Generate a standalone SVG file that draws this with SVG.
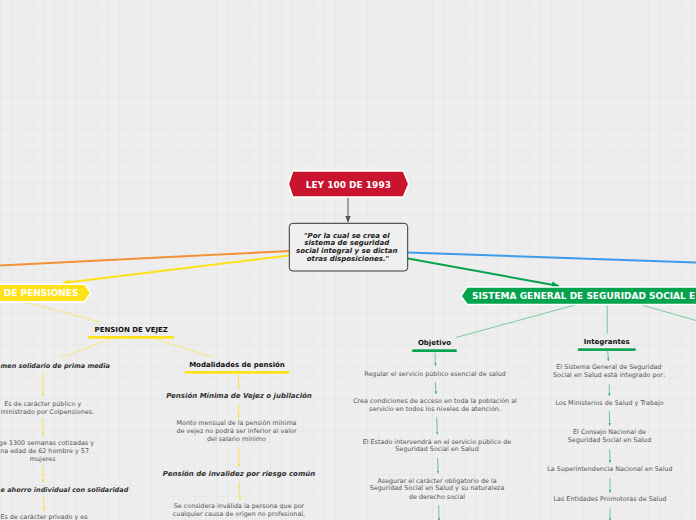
<svg xmlns="http://www.w3.org/2000/svg" width="696" height="520" viewBox="0 0 696 520">
<defs>
<pattern id="grid" width="10.8" height="10.8" patternUnits="userSpaceOnUse" x="1" y="0">
<rect width="10.8" height="10.8" fill="#eeeeee"/>
<path d="M10.8 0V10.8M0 10.8H10.8" stroke="#e3e3e3" stroke-width="1" fill="none"/>
</pattern>
<marker id="aDark" viewBox="0 0 10 10" refX="9" refY="5" markerWidth="7" markerHeight="7" markerUnits="userSpaceOnUse" orient="auto"><path d="M0 1L10 5L0 9z" fill="#555"/></marker>
<marker id="aYel" viewBox="0 0 10 10" refX="9" refY="5" markerWidth="8" markerHeight="8" markerUnits="userSpaceOnUse" orient="auto"><path d="M0 1L10 5L0 9z" fill="#ffe11a"/></marker>
<marker id="aGrn" viewBox="0 0 10 10" refX="9" refY="5" markerWidth="8" markerHeight="8" markerUnits="userSpaceOnUse" orient="auto"><path d="M0 1L10 5L0 9z" fill="#05a34e"/></marker>
<marker id="aYl" viewBox="0 0 10 10" refX="9" refY="5" markerWidth="3" markerHeight="3" markerUnits="userSpaceOnUse" orient="auto"><path d="M0 1L10 5L0 9z" fill="#f7df3a"/></marker>
<marker id="aGl" viewBox="0 0 10 10" refX="9" refY="5" markerWidth="3" markerHeight="3" markerUnits="userSpaceOnUse" orient="auto"><path d="M0 1L10 5L0 9z" fill="#3fb673"/></marker>
</defs>
<style>
text{font-family:"DejaVu Sans","Verdana",sans-serif}
.hdr{font-size:9px;font-weight:bold;fill:#fff}
.lbl{font-size:7px;font-weight:bold;fill:#111;text-anchor:middle}
.bi{font-size:7px;font-weight:bold;font-style:italic;fill:#333;text-anchor:middle}
.bis{font-size:6.5px;font-weight:bold;font-style:italic;fill:#333}
.tx{font-size:6.4px;fill:#555;text-anchor:middle}
.thinY{stroke:#f7e67e;stroke-width:1;fill:none}
.thinG{stroke:#7ccb9c;stroke-width:1;fill:none}
.vY{stroke:#fbe35a;stroke-width:1;fill:none;marker-end:url(#aYl)}
.vG{stroke:#6cc493;stroke-width:1;fill:none;marker-end:url(#aGl)}
</style>
<rect width="696" height="520" fill="url(#grid)"/>

<g id="connectors">
<line x1="348" y1="197" x2="348" y2="222" stroke="#555" stroke-width="1" marker-end="url(#aDark)"/>
<line x1="289" y1="251" x2="0" y2="265.5" stroke="#f39234" stroke-width="2"/>
<line x1="289" y1="255.5" x2="63" y2="283" stroke="#ffe11a" stroke-width="2" marker-end="url(#aYel)"/>
<line x1="408" y1="252.5" x2="696" y2="262.5" stroke="#3d9be9" stroke-width="2"/>
<line x1="408" y1="258.5" x2="559" y2="286" stroke="#05a34e" stroke-width="2" marker-end="url(#aGrn)"/>
<line class="thinY" x1="25" y1="302" x2="100" y2="322"/>
<line class="thinY" x1="110" y1="339" x2="61" y2="358"/>
<line class="thinY" x1="155" y1="339" x2="212" y2="357"/>
<line class="vY" x1="43" y1="373" x2="43" y2="396"/>
<line class="vY" x1="43" y1="418" x2="43" y2="435"/>
<line class="vY" x1="43" y1="466" x2="43" y2="482"/>
<line class="vY" x1="43.5" y1="497" x2="44" y2="511"/>
<line class="vY" x1="238.3" y1="373.5" x2="238.7" y2="388.5"/>
<line class="vY" x1="238.7" y1="403.5" x2="238.7" y2="417.5"/>
<line class="vY" x1="238.7" y1="447.5" x2="239" y2="466.5"/>
<line class="vY" x1="239.3" y1="482" x2="240" y2="499.5"/>
<line class="thinG" x1="575" y1="305" x2="456" y2="337.5"/>
<line class="thinG" x1="607.3" y1="305.5" x2="607.3" y2="333.5"/>
<line class="thinG" x1="641.7" y1="305" x2="696" y2="320.5"/>
<line class="vG" x1="435" y1="352.5" x2="435.5" y2="366"/>
<line class="vG" x1="435.3" y1="382" x2="436" y2="394"/>
<line class="vG" x1="436.7" y1="417" x2="437.3" y2="434.3"/>
<line class="vG" x1="437.7" y1="458" x2="438" y2="473.3"/>
<line class="vG" x1="438.7" y1="505" x2="439" y2="521"/>
<line class="vG" x1="607.7" y1="351" x2="608.5" y2="361"/>
<line class="vG" x1="609.3" y1="384.3" x2="609.3" y2="396"/>
<line class="vG" x1="609.3" y1="411" x2="609.7" y2="425.7"/>
<line class="vG" x1="609.7" y1="449.3" x2="610" y2="462.7"/>
<line class="vG" x1="610" y1="478" x2="610" y2="492.7"/>
<line class="vG" x1="610" y1="508.3" x2="610" y2="521"/>
</g>

<g id="ley">
<polygon points="288.3,184 292.7,171 403.3,171 408.7,184 403.3,197 292.7,197" fill="#c8142f" stroke="#fff" stroke-width="1.5"/>
<text class="hdr" x="348.3" y="187.5" text-anchor="middle">LEY 100 DE 1993</text>
</g>

<g id="central">
<rect x="289.3" y="223.3" width="118.4" height="47.7" rx="3.5" fill="#efefef" stroke="#333" stroke-width="1"/>
<text class="bi" style="fill:#222">
<tspan x="348" y="237.5">"Por la cual se crea el</tspan>
<tspan x="348" y="245.3">sistema de seguridad</tspan>
<tspan x="348" y="253.3">social integral y se dictan</tspan>
<tspan x="348" y="261.3">otras disposiciones."</tspan>
</text>
</g>

<g id="pensiones">
<polygon points="-10,284.3 85,284.3 90.5,293 85,301.7 -10,301.7" fill="#ffe11a" stroke="#fff" stroke-width="1.5"/>
<text class="hdr" x="78.5" y="296.3" text-anchor="end">DE PENSIONES</text>
</g>

<g id="vejez">
<text class="lbl" x="131.2" y="332">PENSION DE VEJEZ</text>
<rect x="88" y="336" width="86" height="2.7" fill="#ffe11a"/>
</g>

<g id="regimen-solidario">
<text class="bis" x="0.5" y="368">men solidario de prima media</text>
</g>
<g id="publico">
<text class="tx" x="42.7" y="405.5">Es de carácter público y</text>
<text class="tx" x="94" y="413.5" style="text-anchor:end">ministrado por Colpensiones.</text>
</g>
<g id="semanas">
<text class="tx" x="94" y="444.5" style="text-anchor:end">ge 1300 semanas cotizadas y</text>
<text class="tx" x="89" y="452.5" style="text-anchor:end">na edad de 62 hombre y 57</text>
<text class="tx" x="42.7" y="460.5">mujeres</text>
</g>
<g id="ahorro">
<text class="bis" x="0.5" y="491.5">e ahorro individual con solidaridad</text>
</g>
<g id="privado">
<text class="tx" x="44" y="518.5">Es de carácter privado y es</text>
</g>

<g id="modalidades">
<text class="lbl" x="237" y="367">Modalidades de pensión</text>
<rect x="184.7" y="371" width="104.6" height="2.7" fill="#ffe11a"/>
</g>
<g id="minima">
<text class="bi" x="239" y="397.5">Pensión Mínima de Vejez o jubilación</text>
</g>
<g id="monto">
<text class="tx"><tspan x="236.5" y="425">Monto mensual de la pensión mínima</tspan><tspan x="236.5" y="433">de vejez no podrá ser inferior al valor</tspan><tspan x="236.5" y="441">del salario mínimo</tspan></text>
</g>
<g id="invalidez">
<text class="bi" x="239" y="476">Pensión de invalidez por riesgo común</text>
</g>
<g id="invalida">
<text class="tx"><tspan x="239" y="508">Se considera inválida la persona que por</tspan><tspan x="239" y="516">cualquier causa de origen no profesional,</tspan></text>
</g>

<g id="salud">
<polygon points="461,296 467,287 710,287 710,304.5 467,304.5" fill="#05a34e" stroke="#fff" stroke-width="1.5"/>
<text class="hdr" x="472" y="299">SISTEMA GENERAL DE SEGURIDAD SOCIAL E</text>
</g>

<g id="objetivo">
<text class="lbl" x="434.5" y="345">Objetivo</text>
<rect x="412.3" y="349.3" width="44.4" height="2.7" fill="#05a34e"/>
</g>
<g id="regular"><text class="tx" x="435" y="375.5">Regular el servicio público esencial de salud</text></g>
<g id="condiciones"><text class="tx"><tspan x="435" y="403">Crea condiciones de acceso en toda la población al</tspan><tspan x="435" y="411">servicio en todos los niveles de atención.</tspan></text></g>
<g id="estado"><text class="tx"><tspan x="437" y="443.5">El Estado intervendrá en el servicio público de</tspan><tspan x="437" y="451.3">Seguridad Social en Salud</tspan></text></g>
<g id="asegurar"><text class="tx"><tspan x="437" y="482.5">Asegurar el carácter obligatorio de la</tspan><tspan x="437" y="490.3">Seguridad Social en Salud y su naturaleza</tspan><tspan x="437" y="498.5">de derecho social</tspan></text></g>

<g id="integrantes">
<text class="lbl" x="606.7" y="344">Integrantes</text>
<rect x="578" y="348.3" width="57.7" height="2.6" fill="#05a34e"/>
</g>
<g id="sgsss"><text class="tx"><tspan x="609" y="369.3">El Sistema General de Seguridad</tspan><tspan x="609" y="377">Social en Salud está integrado por:</tspan></text></g>
<g id="ministerios"><text class="tx" x="609.5" y="405.3">Los Ministerios de Salud y Trabajo</text></g>
<g id="consejo"><text class="tx"><tspan x="609.5" y="434.3">El Consejo Nacional de</tspan><tspan x="609.5" y="442.3">Seguridad Social en Salud</tspan></text></g>
<g id="superintendencia"><text class="tx" x="610" y="471.3">La Superintendencia Nacional en Salud</text></g>
<g id="eps"><text class="tx" x="610" y="501.3">Las Entidades Promotoras de Salud</text></g>
</svg>
